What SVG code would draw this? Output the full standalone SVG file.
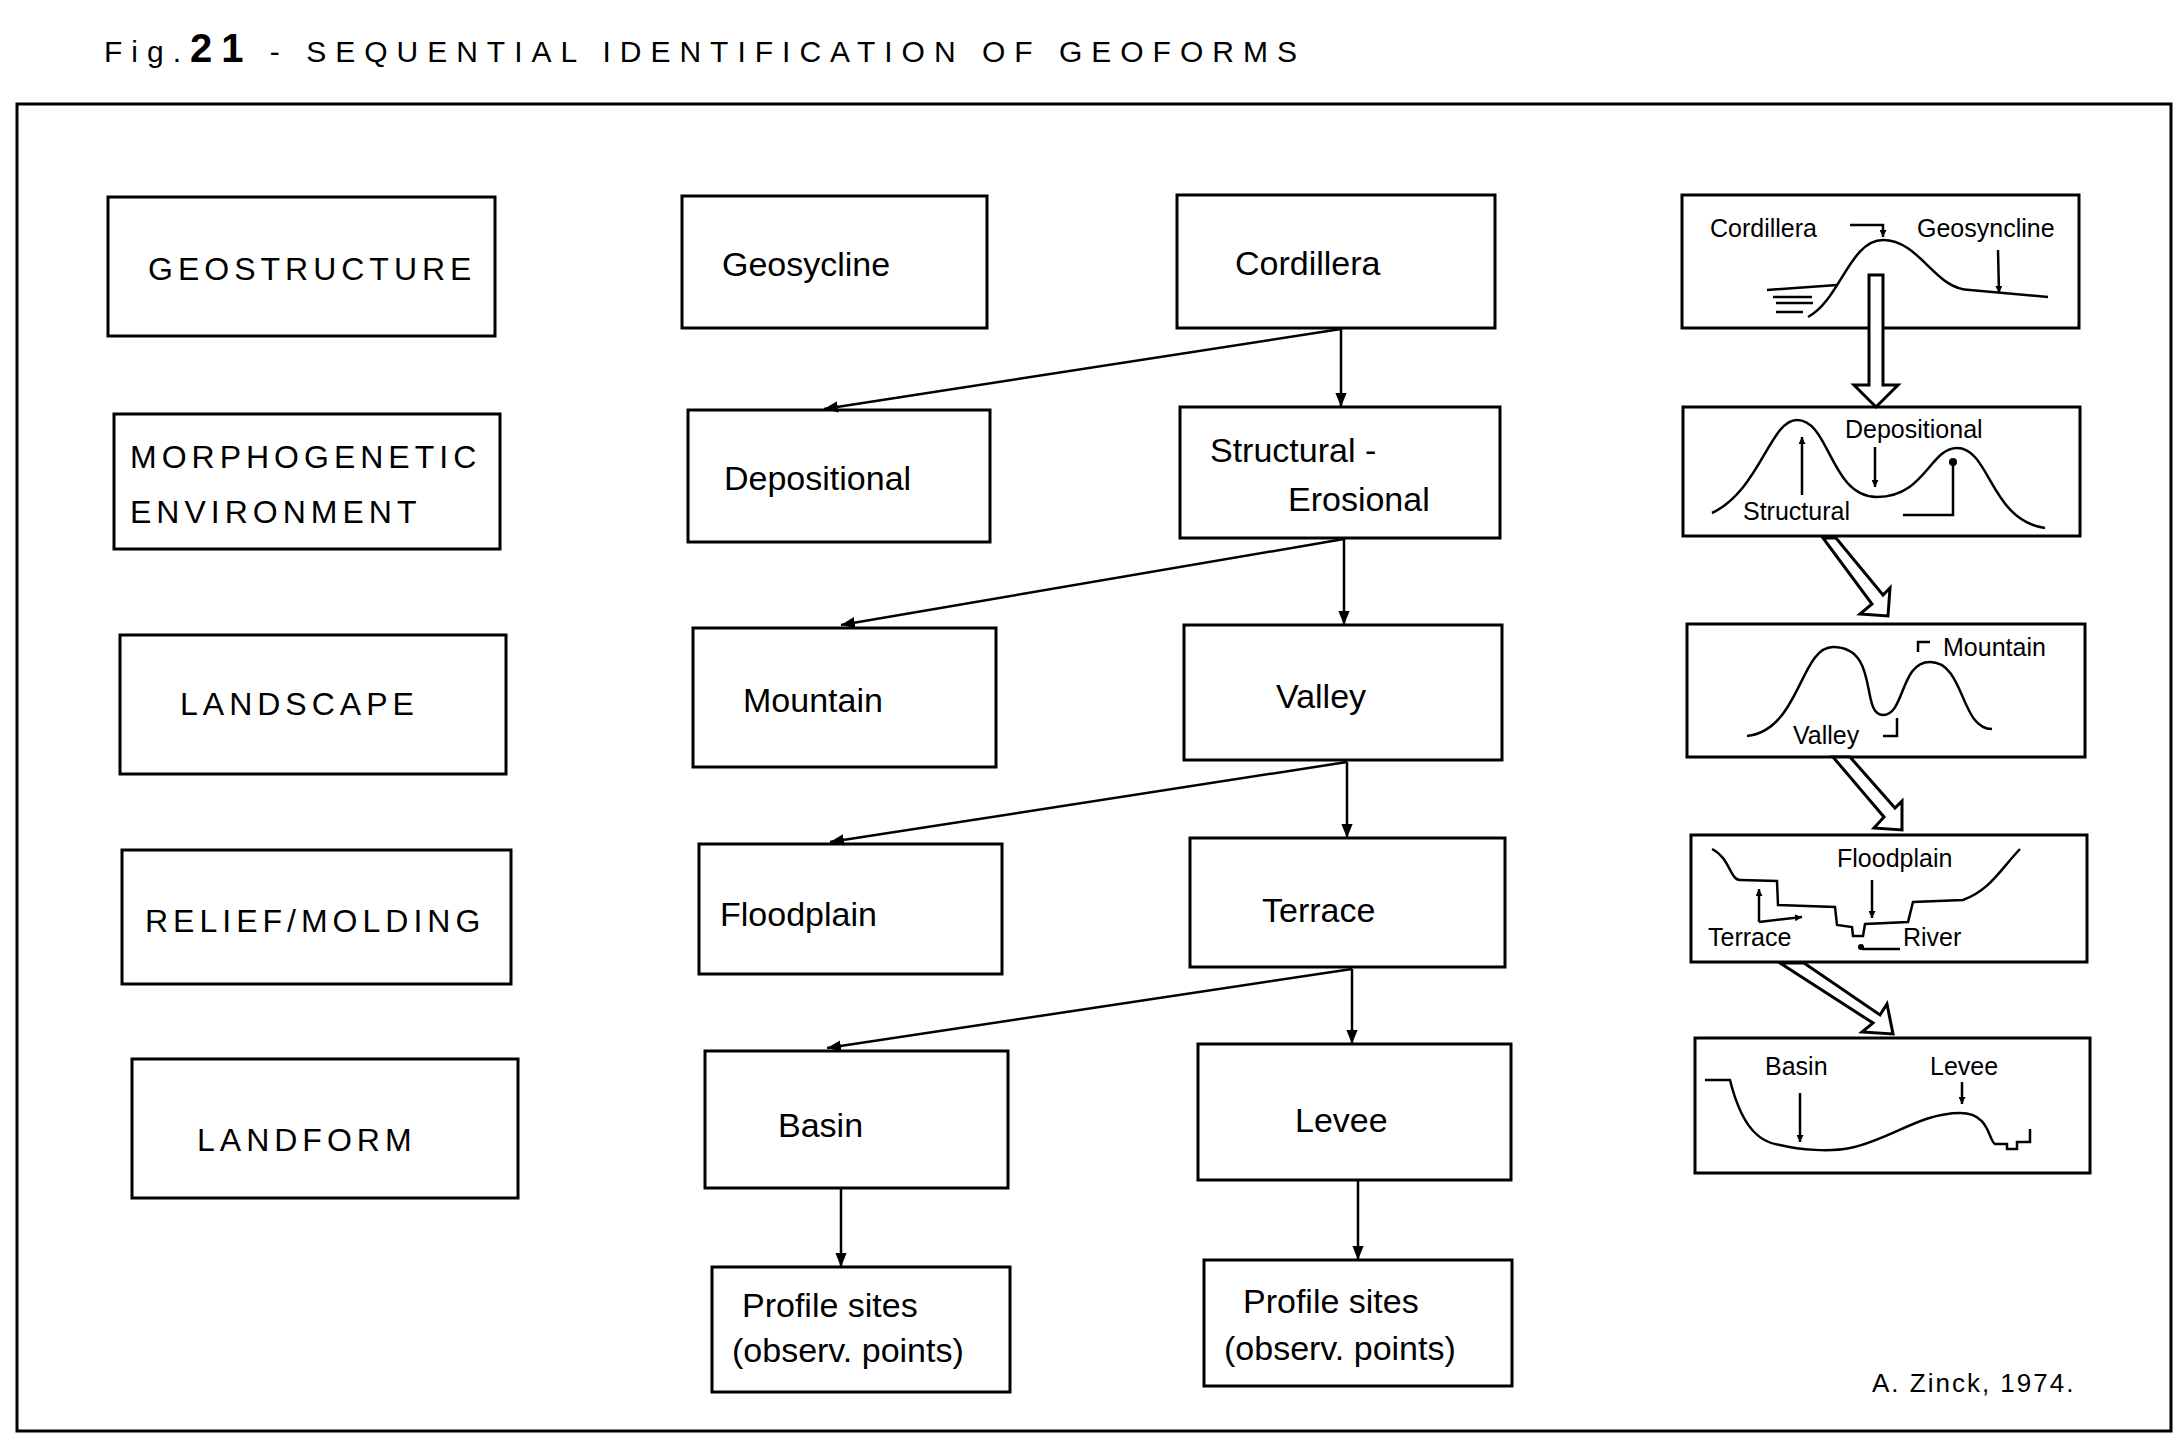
<svg xmlns="http://www.w3.org/2000/svg" width="2179" height="1438" viewBox="0 0 2179 1438">
<style>
.b{fill:none;stroke:#000;stroke-width:3}
.l{fill:none;stroke:#000;stroke-width:2.5}
.t{font-family:"Liberation Sans",Arial,sans-serif;font-size:34px;fill:#000}
.c{font-family:"Liberation Sans",Arial,sans-serif;font-size:32px;fill:#000;letter-spacing:5px}
.s{font-family:"Liberation Sans",Arial,sans-serif;font-size:25px;fill:#000}
.h{fill:#fff;stroke:#000;stroke-width:3;stroke-linejoin:miter}
</style>
<defs>
<marker id="a" viewBox="0 0 10 10" refX="10" refY="5" markerWidth="7" markerHeight="7" orient="auto-start-reverse" markerUnits="userSpaceOnUse"><path d="M0,0 L10,5 L0,10 z" fill="#000"/></marker>
<marker id="m" viewBox="0 0 10 10" refX="10" refY="5" markerWidth="14" markerHeight="14" orient="auto" markerUnits="userSpaceOnUse"><path d="M0,1 L10,5 L0,9 z" fill="#000"/></marker>
</defs>
<rect width="2179" height="1438" fill="#fff"/>
<text x="104" y="62" font-family="'Liberation Sans',Arial,sans-serif" font-size="30" letter-spacing="9">Fig.<tspan font-size="40" font-weight="bold">21</tspan> -  SEQUENTIAL  IDENTIFICATION  OF  GEOFORMS</text>
<rect x="17" y="104" width="2154" height="1327" class="b"/>

<g id="geostructure"><rect x="108" y="197" width="387" height="139" class="b"/><text x="148" y="280" class="c">GEOSTRUCTURE</text></g>
<g id="morphogenetic"><rect x="114" y="414" width="386" height="135" class="b"/><text x="130" y="468" class="c">MORPHOGENETIC</text><text x="130" y="523" class="c">ENVIRONMENT</text></g>
<g id="landscape"><rect x="120" y="635" width="386" height="139" class="b"/><text x="180" y="715" class="c">LANDSCAPE</text></g>
<g id="relief"><rect x="122" y="850" width="389" height="134" class="b"/><text x="145" y="932" class="c">RELIEF/MOLDING</text></g>
<g id="landform"><rect x="132" y="1059" width="386" height="139" class="b"/><text x="197" y="1151" class="c">LANDFORM</text></g>

<g id="geosycline"><rect x="682" y="196" width="305" height="132" class="b"/><text x="722" y="276" class="t">Geosycline</text></g>
<g id="depositional"><rect x="688" y="410" width="302" height="132" class="b"/><text x="724" y="490" class="t">Depositional</text></g>
<g id="mountain"><rect x="693" y="628" width="303" height="139" class="b"/><text x="743" y="712" class="t">Mountain</text></g>
<g id="floodplain"><rect x="699" y="844" width="303" height="130" class="b"/><text x="720" y="926" class="t">Floodplain</text></g>
<g id="basin"><rect x="705" y="1051" width="303" height="137" class="b"/><text x="778" y="1137" class="t">Basin</text></g>
<g id="profile1"><rect x="712" y="1267" width="298" height="125" class="b"/><text x="742" y="1317" class="t">Profile  sites</text><text x="732" y="1362" class="t">(observ. points)</text></g>

<g id="cordillera"><rect x="1177" y="195" width="318" height="133" class="b"/><text x="1235" y="275" class="t">Cordillera</text></g>
<g id="structural"><rect x="1180" y="407" width="320" height="131" class="b"/><text x="1210" y="462" class="t">Structural -</text><text x="1288" y="511" class="t">Erosional</text></g>
<g id="valley"><rect x="1184" y="625" width="318" height="135" class="b"/><text x="1276" y="708" class="t">Valley</text></g>
<g id="terrace"><rect x="1190" y="838" width="315" height="129" class="b"/><text x="1262" y="922" class="t">Terrace</text></g>
<g id="levee"><rect x="1198" y="1044" width="313" height="136" class="b"/><text x="1295" y="1132" class="t">Levee</text></g>
<g id="profile2"><rect x="1204" y="1260" width="308" height="126" class="b"/><text x="1243" y="1313" class="t">Profile  sites</text><text x="1224" y="1360" class="t">(observ. points)</text></g>

<g id="connectors">
<path d="M1341,329 L824,409" class="l" marker-end="url(#m)"/>
<path d="M1341,329 L1341,407" class="l" marker-end="url(#m)"/>
<path d="M1344,539 L841,625" class="l" marker-end="url(#m)"/>
<path d="M1344,539 L1344,625" class="l" marker-end="url(#m)"/>
<path d="M1347,762 L830,842" class="l" marker-end="url(#m)"/>
<path d="M1347,762 L1347,838" class="l" marker-end="url(#m)"/>
<path d="M1352,969 L827,1048" class="l" marker-end="url(#m)"/>
<path d="M1352,969 L1352,1044" class="l" marker-end="url(#m)"/>
<path d="M841,1188 L841,1267" class="l" marker-end="url(#m)"/>
<path d="M1358,1180 L1358,1260" class="l" marker-end="url(#m)"/>
</g>

<g id="sketch1">
<rect x="1682" y="195" width="397" height="133" class="b"/>
<text x="1710" y="237" class="s">Cordillera</text><text x="1917" y="237" class="s">Geosyncline</text>
<path d="M1808,317 C1840,300 1850,240 1883,240 C1920,240 1935,290 1970,290 L2048,297" class="l"/>
<path d="M1767,290 L1837,285 M1773,297 L1812,297 M1776,303 L1813,303 M1776,312 L1803,312" class="l"/>
<path d="M1850,225 L1883,225 L1883,237" class="l" marker-end="url(#a)"/>
<path d="M1998,250 L1999,293" class="l" marker-end="url(#a)"/>
</g>
<path d="M1869,275 L1883,275 L1883,385 L1898,385 L1876,407 L1854,385 L1869,385 Z" class="h"/>

<g id="sketch2">
<rect x="1683" y="407" width="397" height="129" class="b"/>
<path d="M1712,513 C1760,490 1770,420 1797,420 C1830,420 1830,497 1877,497 C1925,497 1930,448 1957,448 C1990,448 1990,520 2045,528" class="l"/>
<text x="1845" y="438" class="s">Depositional</text>
<text x="1743" y="520" class="s">Structural</text>
<path d="M1875,447 L1875,487" class="l" marker-end="url(#a)"/>
<path d="M1802,495 L1802,437" class="l" marker-end="url(#a)"/>
<path d="M1903,515 L1953,515 L1953,462" class="l"/><circle cx="1953" cy="462" r="4"/>
</g>
<path d="M1823,538 L1836,538 L1883,595 L1890,588 L1888,616 L1860,614 L1872,604 Z" class="h"/>

<g id="sketch3">
<rect x="1687" y="624" width="398" height="133" class="b"/>
<path d="M1747,736 C1800,730 1800,647 1833,647 C1880,647 1860,715 1883,715 C1905,715 1900,662 1930,662 C1965,662 1960,729 1992,729" class="l"/>
<text x="1943" y="656" class="s">Mountain</text>
<text x="1793" y="744" class="s">Valley</text>
<path d="M1930,642 L1918,642 L1918,652" class="l"/>
<path d="M1883,736 L1897,736 L1897,718" class="l"/>
</g>
<path d="M1833,757 L1850,757 L1895,808 L1902,801 L1902,830 L1874,828 L1884,817 Z" class="h"/>

<g id="sketch4">
<rect x="1691" y="835" width="396" height="127" class="b"/>
<path d="M1712,849 C1730,858 1730,880 1740,880 L1777,881 L1778,905 L1835,907 L1837,925 L1852,927 L1853,936 L1863,936 L1865,924 L1908,922 L1913,902 L1963,900 C1990,890 2000,870 2020,849" class="l"/>
<text x="1837" y="867" class="s">Floodplain</text>
<path d="M1872,880 L1872,918" class="l" marker-end="url(#a)"/>
<text x="1708" y="946" class="s">Terrace</text>
<path d="M1759,922 L1759,889" class="l" marker-end="url(#a)"/>
<path d="M1759,922 L1802,917" class="l" marker-end="url(#a)"/>
<text x="1903" y="946" class="s">River</text>
<path d="M1900,949 L1862,949" class="l"/><circle cx="1861" cy="947" r="3"/>
</g>
<path d="M1780,963 L1804,963 L1880,1015 L1887,1004 L1893,1034 L1862,1032 L1873,1023 Z" class="h"/>

<g id="sketch5">
<rect x="1695" y="1038" width="395" height="135" class="b"/>
<path d="M1705,1080 L1730,1080 C1740,1120 1755,1142 1780,1145 C1800,1150 1830,1152 1850,1148 C1890,1140 1920,1113 1960,1113 C1990,1113 1988,1140 1995,1144 L2007,1144 L2007,1149 L2017,1149 L2017,1142 L2030,1142 L2030,1129" class="l"/>
<text x="1765" y="1075" class="s">Basin</text>
<text x="1930" y="1075" class="s">Levee</text>
<path d="M1800,1093 L1800,1142" class="l" marker-end="url(#a)"/>
<path d="M1962,1082 L1962,1104" class="l" marker-end="url(#a)"/>
</g>

<text x="1872" y="1392" font-family="'Liberation Sans',Arial,sans-serif" font-size="26" letter-spacing="2">A. Zinck, 1974.</text>
</svg>
